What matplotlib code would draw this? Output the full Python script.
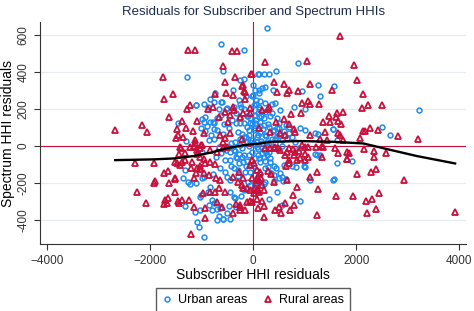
import matplotlib
matplotlib.use("Agg")
import matplotlib.pyplot as plt
from matplotlib.lines import Line2D

plt.rcParams["font.family"] = ["Liberation Sans", "DejaVu Sans"]

# residuals (subscriber HHI, spectrum HHI)
urban_x = [-627, -180, -596, -1290, 97, -175, -14, -394, 25, -848, -601, -1112, -964, -524, -382, -252, -931, -782,
           -252, 103, -737, -621, -770, -285, -136, -1106, -887, -673, -510, -239, -1468, -996, -964, -834, -770,
           -330, -252, -188, -72, -1015, -931, -704, -588, -304, -219, -91, -1300, -867, -770, -433, -349, -25, 72,
           -673, 860, 207, 310, 440, 1248, 1577, 219, 103, 169, 375, 945, 1300, 136, 233, 363, 413, 782, 996, 524,
           103, 363, 219, 460, 504, 634, 685, 912, 996, 1558, 1203, 1255, 1624, 879, 3220, 2505, 2658, 1558, 1636,
           1915, 1572, 1546, 1093, 899, 556, 460, 233, 200, 511, 556, 640, 977, 835, 297, 569, 394, 504, 91, 394,
           349, 440, 394, 588, 751, 1009, 1300, 1190, 1236, 297, 266, 330, 169, 200, 103, 136, 233, 330, 233, 285,
           -1319, -1125, -1028, -1042, -1015, -1093, -1061, -951, -867, -770, -802, -802, -704, -673, -588, -479,
           -446, -362, -239, -446, -848, -887, -782, -1333, -1364, -1274, -1222, -1106, -996, -951, -640, -543,
           -510, -459, -382, -304, -285, -200, -122, -155, -58, -110, -58, -996, -446, -349, -285, -188, -543,
           -446, -317, -219, -91, -25, 39, 83, -704, -596, -510, -640, -330, -369, 103, 136, 200, 297, 394, 491,
           588, 685, 751, 654, 556, 460, 363, 233, 136, 72, 169, 297, 427, 556, 815, 58, -6, 103, 19, 83, -58, 39,
           -122, 6, -188, -122, -252, -479, 72, -50, 40, -120, 60, -30, 130, 10, -80, 180, 90, -150, 250, 160, -60,
           20, 100, 200, -100, -180, -250, -330, -410, -480, -560, -620, -700, -760, -820, -900, 120, 200, 280, 330,
           380, 430, 470, 520, 260, 150, 50, -20, 265,
           -380, -250, -140, -40, 60, -300, -170, -620, -520, -430, -330, -720, 140, 240, -90, -210]
urban_y = [552, 517, 405, 374, 392, 360, 331, 304, 302, 256, 239, 220, 227, 198, 212, 230, 158, 131,
           356, 389, 285, 239, 239, 248, 270, 221, 209, 198, 204, 212, 126, 144, 131, 131, 123,
           123, 123, 126, 123, 96, 83, 86, 65, 77, 65, 59, 29, 32, 36, 18, 23, 32, 23,
           -4, 447, 389, 389, 403, 328, 322, 317, 302, 312, 302, 299, 272, 245, 234, 225, 234, 209, 202, 194,
           212, 176, 185, 150, 123, 113, 104, 96, 86, 90, 72, 65, 32, -12, 194, 103, 59, 92, -90,
           -79, -180, -184, -184, -299, -319, -247, -193, -205, -148, -166, -180, -108, -112, -286, -189, -189, -175, -196, -157,
           -148, -120, -106, -103, -106, -112, -49, -45, -49, -31, -49, -67, -40, -58, -67, -85, -81, -85, -121, -112,
           -324, -359, -346, -274, -265, -409, -436, -490, -319, -310, -292, -346, -340, -377, -394, -322,
           -394, -279, -268, -247, -220, -247, -153, -130, -171, -193, -207, -201, -175, -166, -121, -139,
           -166, -184, -121, -130, -94, -85, -81, -139, -142, -193, -211, -31, -34, -27, -45, -49, -76,
           -76, -67, -58, -49, -31, -67, -49, -400, -396, -364, -337, -328, -274, 158, 131, 113, 104, 86, 96,
           83, 68, 50, 41, 32, 54, 36, 59, 77, 50, 14, 5, 14, 0, 23, 248, 275, 285, 221, 176, 150, 123,
           104, 86, 50, 23, 5, -4, -7, 180, 170, 160, 140, 120, 110, 95, 85, 90, 60, 50, 55, 30, 20,
           10, -15, -20, 160, 200, 150, 180, 140, 100, 120, 170, 150, 90, 60, 110, 200, 150, 120, 160,
           80, 40, 100, 60, 20, 160, 230, 270, 636,
           -20, 40, -110, -100, -130, -160, -240, -40, -20, -110, -60, -60, -150, -30, 0, -10]

rural_x = [-2680, -2160, -2060, -2300, -1930, -1900, -1935, -2250, -2090,
           -1260, -1140, -407, -316, -1750, -582, -19, -557, -355, -213, -1740, -1566, -750, -524, -188, -401,
           -1222, -1294, -880, -782, -155, -382, -1636, -1384, -1481, -1313, -1093, -1170, -1468,
           -45, -200, -169, -394, -58, -498, -964, -640, -446, -1494, -1364, -1139, -1015, -543, -219, -1403,
           -1158, -1028, -588,
           219, 1048, 1960, 2010, 407, 588, 1100, 1538, 466, 685, 660, 867, 2128, 956, 1073, 1106, 1280, 297,
           1752, 2109, 1624, 1474, 737, 931, 588, 1352, 1494, 1643, 1707, 685, 782, 1397, 1655, 2140, 1106, 1300,
           1430, 1752, 945, 1073, 1216, 1364, 1591,
           2497, 2237, 2270, 2173, 2432, 2807, 3207, 1604, 2076, 1688, 1690,
           1817, 1850, 1655, 2353, 2580, 2153, 2353, 1830, 1236, 2012, 2290, 2381, 2930, 1255, 848, 770, 1610,
           1946, 2192, 2309, 2450, 2386, 2218, 1236, 3925, 782, 718, 543, 427, 621, 200, 83, 200, 72, 169, 103,
           200, 72, 169, 407, 654, 343, 685, 1093,
           491, 285, 103, 72, 155, 634, 1009, 912, 848, 782, 685, 1009, 1073, 1333, 1817, 1009, 1333, 763, 802,
           879, 654, 621, 330, 394, 479, 524, 72, 136,
           -1740, -1662, -1513, -1630, -1513, -1707, -1675, -1740, -1662, -1449, -1384, -1255, -1158, -931, -931,
           -1209, -704, -608, -394, -834, -737, -543, -330, -252, -155, -266, -72, -219, -122, 6, 83, -673, -977,
           -718, -640, -964, -867, -1042, -1209, -1106, -1158, -1384, -1319, -1190, -1093, -1028, -931, -834,
           -737, -394, -58, 19, -25, 58, -304, -200, -834, -704, -588, -510, -1093, -1028, -964, -1416, -1319,
           -1449, -1235, -285, -25,
           -1468, -1513, -1520, -1481, -1416, -1139, -1158, -1093, -996, -252, -122, -25, -200, -58, 19, 72,
           169, 285, 103, 330, 440, 524, 621, 815, 427, 685, 233,
           -200, -58, -252, -446, -543, -673]
rural_y = [86, 112, 76, -90, -90, -187, -202, -248, -310,
           517, 517, 513, 513, 374, 430, 392, 347, 371, 326, 256, 279, 282, 286, 297, 274,
           220, 198, 198, 209, 252, 194, 158, 137, 94, 97, 137, 79, 58,
           389, 330, 293, 212, 204, 131, 68, 59, 68, 41, 50, 32, 5, 41, 36, -12,
           -7, -12, 23,
           455, 457, 436, 356, 344, 335, 335, 302, 290, 302, 288, 295, 281, 234, 241, 230, 230, 212,
           185, 204, 176, 162, 171, 176, 148, 130, 130, 137, 119, 119, 90, 77, 72, 81, 59, 36,
           32, 32, 5, -7, -7, -7, -12,
           220, 221, 99, 83, 86, 54, 40, 158, 41, 59, 595,
           -31, -36, -36, -25, -36, -18, -58, -72, -139, -153, -139, -124, -184, -234, -223, -265, -270,
           -270, -295, -288, -256, -342, -364, -374, -355, -319, -346, -364, -346, -306, -385, -336, -324, -288, -295, -247,
           -238, -201, -211, -196, -184, -151, -94, -166,
           -328, -135, -184, -171, -175, -106, -76, -67, -76, -49, -76, -45, -58, -58, -70, -4, 2, -16, -31,
           -27, -34, -49, -12, -9, -12, -22, -130, -139,
           -148, -135, -175, -201, -247, -292, -310, -315, -283, -310, -292, -292, -328, -337, -391,
           -477, -304, -328, -364, -247, -250, -247, -315, -328, -346, -346, -297, -211, -229, -232, -238, -229, -256,
           -175, -184, -148, -157, -124, -121, -148, -175, -85, -76, -88, -121, -106, -94, -85,
           -99, -166, -103, -94, -175, -184, -193, -175, -22, -31, -12, -4, -45, -58, -70, -4, -40,
           -45, -4, -139, -76,
           -295, -180, -88, -94, -103, 14, 0, -22, 5, -319, -301, -301, -229, -238, -252, -238,
           194, 198, 96, 77, 131, 68, 59, 77, -7, -12, -12,
           176, 176, 158, 167, 185, 158]

# lowess smooth
lowess_x = [-2680, -1934, -1546, -1158, -834, -510, -188, 136, 330, 912, 1558, 2140, 2530, 3177, 3920]
lowess_y = [-76, -72, -67, -54, -36, -12, 5, 14, 23, 27, 23, 14, -12, -54, -94]

blue = "#1e8cf0"
red = "#c8103c"

fig = plt.figure(figsize=(4.74, 3.11), dpi=100)
ax = fig.add_axes([0.0844, 0.215, 0.8986, 0.714])

ax.axhline(0, color=red, lw=0.8, zorder=1)
ax.axvline(0, color=red, lw=0.8, zorder=1)

ax.plot(urban_x, urban_y, ls="none", marker="o", ms=3.5, mfc="none", mec=blue, mew=1.1, zorder=2)
ax.plot(rural_x, rural_y, ls="none", marker="^", ms=3.7, mfc="none", mec=red, mew=1.3, zorder=3)
ax.plot(lowess_x, lowess_y, color="black", lw=1.7, zorder=4)

ax.set_xlim(-4140, 4130)
ax.set_ylim(-530, 670)
ax.set_xticks([-4000, -2000, 0, 2000, 4000])
ax.set_yticks([-400, -200, 0, 200, 400, 600])
ax.set_yticklabels(["-400", "-200", "0", "200", "400", "600"], rotation=90, va="center")
ax.tick_params(labelsize=8.5, length=4, width=0.8, colors="#333333")
ax.grid(axis="y", color="#e6ebf0", lw=0.8)
ax.set_axisbelow(True)
for s in ["top", "right"]:
    ax.spines[s].set_visible(False)
for s in ["left", "bottom"]:
    ax.spines[s].set_color("#333333")
    ax.spines[s].set_linewidth(0.8)

ax.set_xlabel("Subscriber HHI residuals", fontsize=10, labelpad=1)
ax.set_ylabel("Spectrum HHI residuals", fontsize=10, labelpad=2)
fig.text(0.535, 0.962, "Residuals for Subscriber and Spectrum HHIs", ha="center", va="center",
         fontsize=9.5, color="#1f2d4d")

handles = [
    Line2D([], [], ls="none", marker="o", ms=3.5, mfc="none", mec=blue, mew=1.1),
    Line2D([], [], ls="none", marker="^", ms=3.7, mfc="none", mec=red, mew=1.3),
]
fig.legend(handles, ["Urban areas", "Rural areas"], loc="upper center", bbox_to_anchor=(0.534, 0.095),
           ncol=2, fontsize=9, frameon=True, fancybox=False, edgecolor="#333333", handlelength=0.8,
           handletextpad=0.5, columnspacing=1.2, borderpad=0.5)

fig.savefig("out.png", dpi=100)
